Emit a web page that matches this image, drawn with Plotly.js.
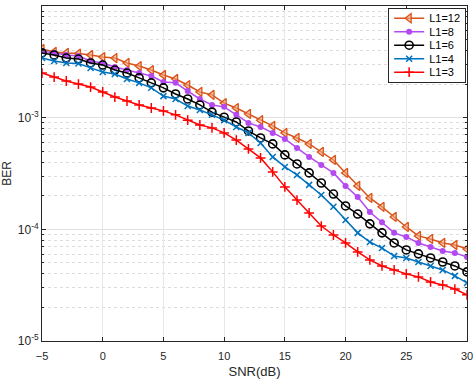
<!DOCTYPE html>
<html>
<head>
<meta charset="utf-8">
<script src="https://cdn.plot.ly/plotly-3.0.1.min.js"></script>
<style>html,body{margin:0;padding:0;background:#fff;}#chart{width:474px;height:379px;}</style>
</head>
<body>
<div id="chart"></div>
<script>
const snr = [-5,-4,-3,-2,-1,0,1,2,3,4,5,6,7,8,9,10,11,12,13,14,15,16,17,18,19,20,21,22,23,24,25,26,27,28,29,30];

const berL12 = [4.12e-3,3.88e-3,3.80e-3,3.75e-3,3.64e-3,3.49e-3,3.42e-3,3.09e-3,2.90e-3,2.67e-3,2.41e-3,2.22e-3,1.96e-3,1.70e-3,1.60e-3,1.35e-3,1.22e-3,1.08e-3,9.5e-4,8.43e-4,7.3e-4,6.58e-4,5.82e-4,4.93e-4,4.18e-4,3.20e-4,2.45e-4,1.91e-4,1.59e-4,1.29e-4,1.05e-4,8.73e-5,8.2e-5,7.55e-5,7.24e-5,6.68e-5];
const berL8 = [3.96e-3,3.80e-3,3.64e-3,3.57e-3,3.22e-3,3.09e-3,2.84e-3,2.67e-3,2.51e-3,2.36e-3,2.09e-3,2.05e-3,1.73e-3,1.47e-3,1.30e-3,1.25e-3,1.06e-3,8.97e-4,8.26e-4,7.3e-4,6.45e-4,5.36e-4,4.45e-4,3.77e-4,3.20e-4,2.45e-4,1.95e-4,1.43e-4,1.16e-4,9.3e-5,8.55e-5,7.55e-5,6.95e-5,6.41e-5,6.15e-5,5.66e-5];
const berL6 = [3.80e-3,3.64e-3,3.42e-3,3.35e-3,3.09e-3,2.96e-3,2.67e-3,2.51e-3,2.27e-3,2.05e-3,1.85e-3,1.63e-3,1.47e-3,1.30e-3,1.12e-3,1.01e-3,9.15e-4,7.6e-4,6.58e-4,5.82e-4,4.64e-4,3.85e-4,3.20e-4,2.60e-4,2.07e-4,1.62e-4,1.37e-4,1.12e-4,9.3e-5,7.55e-5,6.54e-5,6.03e-5,5.54e-5,5.1e-5,4.70e-5,4.16e-5];
const berL4 = [3.42e-3,3.22e-3,3.09e-3,3.05e-3,2.79e-3,2.56e-3,2.46e-3,2.22e-3,2.05e-3,1.85e-3,1.56e-3,1.47e-3,1.27e-3,1.17e-3,1.06e-3,9.5e-4,8.25e-4,7.3e-4,5.93e-4,4.45e-4,3.62e-4,3.07e-4,2.50e-4,2.03e-4,1.59e-4,1.21e-4,9.3e-5,7.7e-5,6.8e-5,5.78e-5,5.54e-5,5.1e-5,4.70e-5,4.33e-5,3.83e-5,3.31e-5];
const berL3 = [2.51e-3,2.31e-3,2.13e-3,2.00e-3,1.88e-3,1.70e-3,1.53e-3,1.41e-3,1.30e-3,1.22e-3,1.15e-3,1.06e-3,9.5e-4,8.6e-4,8.1e-4,7.3e-4,6.3e-4,5.25e-4,4.36e-4,3.27e-4,2.40e-4,1.83e-4,1.40e-4,1.07e-4,8.9e-5,7.55e-5,6.28e-5,5.32e-5,4.70e-5,4.33e-5,3.99e-5,3.75e-5,3.38e-5,3.18e-5,2.92e-5,2.59e-5];

const seriesNames = ['L1=12','L1=8','L1=6','L1=4','L1=3'];
const xTickVals = [-5,0,5,10,15,20,25,30];
const yTickVals = [1e-5,1e-4,1e-3,1e-2];
const yTickText = ['10<sup>-5</sup>','10<sup>-4</sup>','10<sup>-3</sup>','10<sup>-2</sup>'];

const yMinor = [];
[1e-5,1e-4,1e-3].forEach(d => { for (let k=2;k<=9;k++) yMinor.push(d*k); });

const traces = [
  {x: snr, y: berL12, name: seriesNames[0], mode:'lines+markers',
   line:{color:'#D95319', width:1.5},
   marker:{symbol:'triangle-left', size:8, color:'rgba(240,170,130,0.6)', line:{color:'#D95319', width:1.3}}},
  {x: snr, y: berL8, name: seriesNames[1], mode:'lines+markers',
   line:{color:'#B449F2', width:1.5},
   marker:{symbol:'circle', size:6, color:'#B449F2'}},
  {x: snr, y: berL6, name: seriesNames[2], mode:'lines+markers',
   line:{color:'#000000', width:1.5},
   marker:{symbol:'circle-open', size:8, color:'#000000', line:{width:1.6}}},
  {x: snr, y: berL4, name: seriesNames[3], mode:'lines+markers',
   line:{color:'#0072BD', width:1.5},
   marker:{symbol:'x-thin-open', size:6, color:'#0072BD', line:{color:'#0072BD', width:1.5}}},
  {x: snr, y: berL3, name: seriesNames[4], mode:'lines+markers',
   line:{color:'#FF0000', width:1.5},
   marker:{symbol:'cross-thin-open', size:7, color:'#FF0000', line:{color:'#FF0000', width:1.5}}}
];

const font = {family:'Liberation Sans, Arial, sans-serif', size:11, color:'#262626'};

const layout = {
  width:474, height:379,
  margin:{l:42, r:7, t:6, b:38},
  paper_bgcolor:'#fff', plot_bgcolor:'#fff',
  font: font,
  showlegend:true,
  legend:{x:0.998, xanchor:'right', y:0.995, yanchor:'top', bgcolor:'#fff',
          bordercolor:'#262626', borderwidth:1, font:{family:font.family, size:11, color:'#000'},
          tracegroupgap:0, itemwidth:30},
  xaxis:{
    range:[-5,30], tickmode:'array', tickvals:xTickVals,
    ticks:'inside', ticklen:4, tickcolor:'#262626', mirror:'ticks',
    showline:true, linecolor:'#262626', linewidth:1,
    showgrid:true, gridcolor:'#e6e6e6', gridwidth:1, zeroline:false,
    ticklabelstandoff:5,
    title:{text:'SNR(dB)', font:{size:13, color:'#262626'}, standoff:9},
    tickfont:{size:11, color:'#262626'}
  },
  yaxis:{
    type:'log', range:[-5,-2], tickmode:'array', tickvals:yTickVals, ticktext:yTickText,
    ticks:'inside', ticklen:4, tickcolor:'#262626', mirror:'ticks',
    showline:true, linecolor:'#262626', linewidth:1,
    showgrid:true, gridcolor:'#e2e2e2', gridwidth:1, zeroline:false,
    title:{text:'BER', font:{size:12, color:'#262626'}, standoff:6},
    tickfont:{size:12, color:'#262626'},
    minor:{tickmode:'array', tickvals:yMinor, ticks:'inside', ticklen:2, tickcolor:'#262626',
           showgrid:true, gridcolor:'#dcdcdc', griddash:'dot', gridwidth:1}
  }
};

const gd = document.getElementById('chart');
Plotly.newPlot(gd, traces, layout, {displayModeBar:false, staticPlot:true}).then(() => {
  // compact the legend rows to match the reference spacing
  const leg = gd.querySelector('g.legend');
  if (!leg) return;
  const items = leg.querySelectorAll('g.traces');
  const step = 13.5, first = 10.5;
  items.forEach((it, i) => {
    const t = it.getAttribute('transform') || '';
    const m = /translate\(\s*([-\d.e]+)[\s,]+([-\d.e]+)\s*\)/.exec(t);
    const xo = m ? m[1] : 0;
    it.setAttribute('transform', 'translate(' + xo + ',' + (first + i * step) + ')');
  });
  const bg = leg.querySelector('rect.bg');
  if (bg) bg.setAttribute('height', first + (items.length - 1) * step + 10);
});
</script>
</body>
</html>
